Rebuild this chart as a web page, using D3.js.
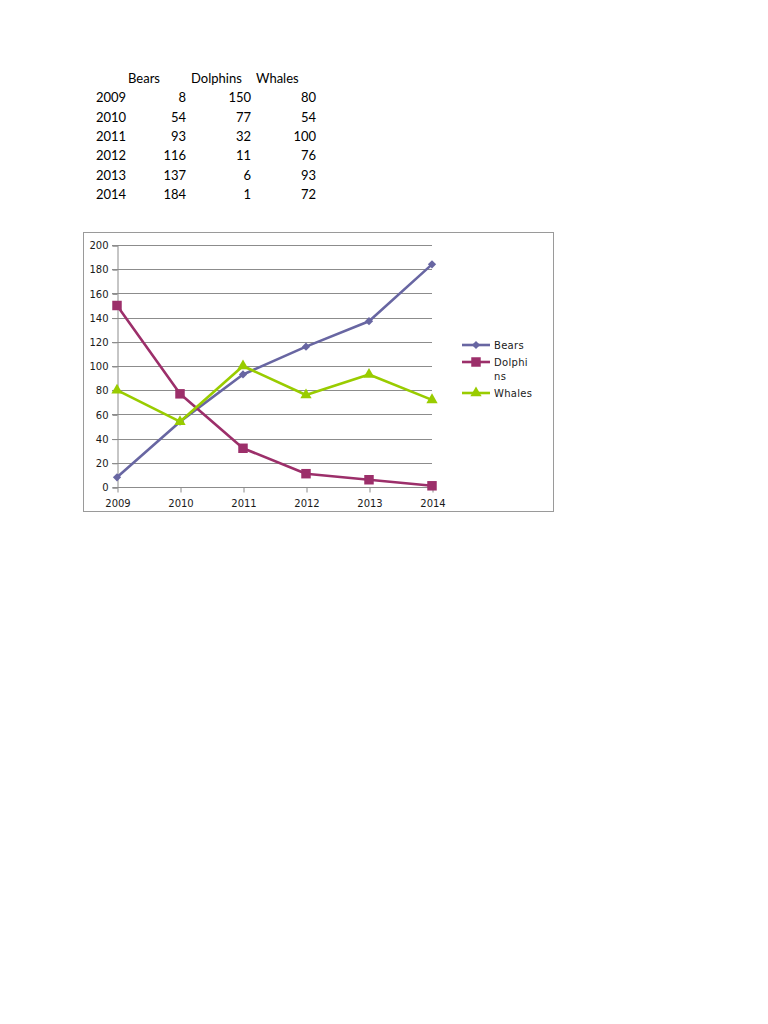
<!DOCTYPE html>
<html>
<head>
<meta charset="utf-8">
<script src="https://cdn.jsdelivr.net/npm/d3@7"></script>
<style>
  body { margin: 0; background: #fff; }
  svg { display: block; }
</style>
</head>
<body>
<div id="chart"></div>
<script>
// data
var years = ["2009", "2010", "2011", "2012", "2013", "2014"];
var seriesNames = ["Bears", "Dolphins", "Whales"];
var bears = [8, 54, 93, 116, 137, 184];
var dolphins = [150, 77, 32, 11, 6, 1];
var whales = [80, 54, 100, 76, 93, 72];
var yTicks = [0, 20, 40, 60, 80, 100, 120, 140, 160, 180, 200];

var colors = { Bears: "#6866a2", Dolphins: "#9c2f6a", Whales: "#99cc00" };
var symbols = { Bears: d3.symbolSquare, Dolphins: d3.symbolSquare, Whales: d3.symbolTriangle };
var symSize = { Bears: 34, Dolphins: 90, Whales: 55 };
var symRot = { Bears: 45, Dolphins: 0, Whales: 0 };

var series = [
  { name: "Bears", values: bears },
  { name: "Dolphins", values: dolphins },
  { name: "Whales", values: whales }
];

var svg = d3.select("#chart").append("svg")
  .attr("width", 768)
  .attr("height", 1024);

// ---- the little spreadsheet table on top
var table = svg.append("g")
  .style("font-family", "Lato, 'Open Sans', sans-serif")
  .style("font-size", "13px")
  .style("fill", "#000");

var colLeft = [128, 191, 256];
var colRight = [186, 251, 316];
var rowY = d3.scaleLinear().domain([0, 6]).range([83, 199]);

table.selectAll(".head")
  .data(seriesNames)
  .enter().append("text")
  .attr("x", (d, i) => colLeft[i])
  .attr("y", rowY(0))
  .text(d => d);

years.forEach(function(yr, r) {
  table.append("text")
    .attr("x", 96)
    .attr("y", rowY(r + 1))
    .text(yr);
  series.forEach(function(s, c) {
    table.append("text")
      .attr("x", colRight[c])
      .attr("y", rowY(r + 1))
      .attr("text-anchor", "end")
      .text(s.values[r]);
  });
});

// ---- chart frame
svg.append("rect")
  .attr("x", 83.5)
  .attr("y", 232.5)
  .attr("width", 470)
  .attr("height", 279)
  .attr("fill", "#fff")
  .attr("stroke", "#9a9a9a")
  .attr("stroke-width", 1);

var x = d3.scalePoint().domain(years).range([117, 432]);
var y = d3.scaleLinear().domain([0, 200]).range([487, 245]);

var chartFont = "'DejaVu Sans', Verdana, sans-serif";

// gridlines
svg.append("g").selectAll("line")
  .data(yTicks.filter(d => d > 0))
  .enter().append("line")
  .attr("x1", 112)
  .attr("x2", 432)
  .attr("y1", d => Math.round(y(d)) + 0.5)
  .attr("y2", d => Math.round(y(d)) + 0.5)
  .attr("stroke", "#8c8c8c")
  .attr("stroke-width", 1);

// y axis
var yAxis = svg.append("g")
  .attr("transform", "translate(117.5,0.5)")
  .call(d3.axisLeft(y).tickValues(yTicks).tickSize(5).tickPadding(4));
yAxis.select(".domain").attr("stroke", "#8c8c8c");
yAxis.selectAll(".tick line").attr("stroke", "#8c8c8c");
yAxis.selectAll("text")
  .style("font-family", chartFont)
  .style("font-size", "10px")
  .style("fill", "#1a1a1a");

// x axis
var xAxis = svg.append("g")
  .attr("transform", "translate(0.5," + (y(0) + 0.5) + ")")
  .call(d3.axisBottom(x).tickSize(5).tickPadding(7));
xAxis.select(".domain").attr("stroke", "#8c8c8c").attr("d", "M112,0H432");
xAxis.selectAll(".tick line").attr("stroke", "#8c8c8c");
xAxis.selectAll("text")
  .style("font-family", chartFont)
  .style("font-size", "10px")
  .style("fill", "#1a1a1a");

// lines
var line = d3.line()
  .x((d, i) => x(years[i]))
  .y(d => y(d));

var sg = svg.selectAll(".series")
  .data(series)
  .enter().append("g")
  .attr("class", "series");

sg.append("path")
  .attr("d", d => line(d.values))
  .attr("fill", "none")
  .attr("stroke", d => colors[d.name])
  .attr("stroke-width", 2.6)
  .attr("stroke-linejoin", "round");

sg.each(function(s) {
  d3.select(this).selectAll("path.mark")
    .data(s.values)
    .enter().append("path")
    .attr("class", "mark")
    .attr("transform", (d, i) => "translate(" + x(years[i]) + "," + y(d) + ") rotate(" + symRot[s.name] + ")")
    .attr("d", d3.symbol().type(symbols[s.name]).size(symSize[s.name]))
    .attr("fill", colors[s.name]);
});

// legend
var legend = svg.append("g")
  .style("font-family", chartFont)
  .style("font-size", "10px")
  .style("letter-spacing", "0.3px")
  .style("fill", "#1a1a1a");

var legY = [345, 362, 393];
series.forEach(function(s, i) {
  var g = legend.append("g").attr("transform", "translate(0," + legY[i] + ")");
  g.append("line")
    .attr("x1", 462).attr("x2", 490)
    .attr("stroke", colors[s.name])
    .attr("stroke-width", 2.6);
  g.append("path")
    .attr("transform", "translate(476,0) rotate(" + symRot[s.name] + ")")
    .attr("d", d3.symbol().type(symbols[s.name]).size(symSize[s.name]))
    .attr("fill", colors[s.name]);
  if (s.name === "Dolphins") {
    g.append("text").attr("x", 494).attr("y", 4).text("Dolphi");
    g.append("text").attr("x", 494).attr("y", 18).text("ns");
  } else {
    g.append("text").attr("x", 494).attr("y", 4).text(s.name);
  }
});
</script>
</body>
</html>
